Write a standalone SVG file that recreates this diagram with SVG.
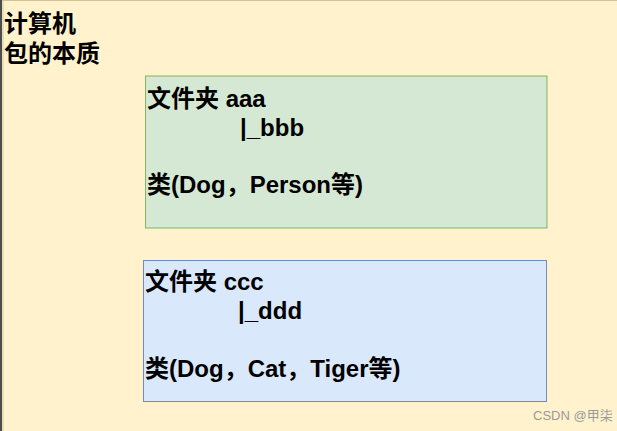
<svg xmlns="http://www.w3.org/2000/svg" width="617" height="431" viewBox="0 0 617 431">
  <style>
    .t { font-family: "Liberation Sans", "Noto Sans CJK SC", sans-serif; font-weight: bold; font-size: 24px; fill: #000; }
    .wm { font-family: "Liberation Sans", "Noto Sans CJK SC", sans-serif; font-size: 13px; fill: #9a9a9a; }
  </style>
  <g id="background">
    <rect x="0" y="0" width="617" height="431" fill="#fff2cc"/>
    <line x1="0" y1="0.5" x2="617" y2="0.5" stroke="#cfc397" stroke-width="1"/>
    <line x1="1" y1="0" x2="1" y2="431" stroke="#4d4d4d" stroke-width="2"/>
    <line x1="3" y1="0" x2="3" y2="431" stroke="#d6c99a" stroke-width="1"/>
  </g>
  <g id="title">
    <text class="t" x="4" y="32">计算机</text>
    <text class="t" x="4" y="62">包的本质</text>
  </g>
  <g id="node-aaa">
    <rect x="145.5" y="76" width="401.5" height="152" fill="#d5e8d4" stroke="#82b366" stroke-width="1"/>
    <text class="t" x="147" y="107">文件夹 aaa</text>
    <text class="t" x="240" y="135.5">|_bbb</text>
    <text class="t" x="147" y="193">类(Dog，Person等)</text>
  </g>
  <g id="node-ccc">
    <rect x="143.5" y="260.5" width="403" height="141" fill="#dae8fc" stroke="#6c8ebf" stroke-width="1"/>
    <text class="t" x="145" y="290">文件夹 ccc</text>
    <text class="t" x="238" y="318.5">|_ddd</text>
    <text class="t" x="145" y="377">类(Dog，Cat，Tiger等)</text>
  </g>
  <g id="connectors"></g>
  <text class="wm" x="533" y="420">CSDN @甲柒</text>
</svg>
